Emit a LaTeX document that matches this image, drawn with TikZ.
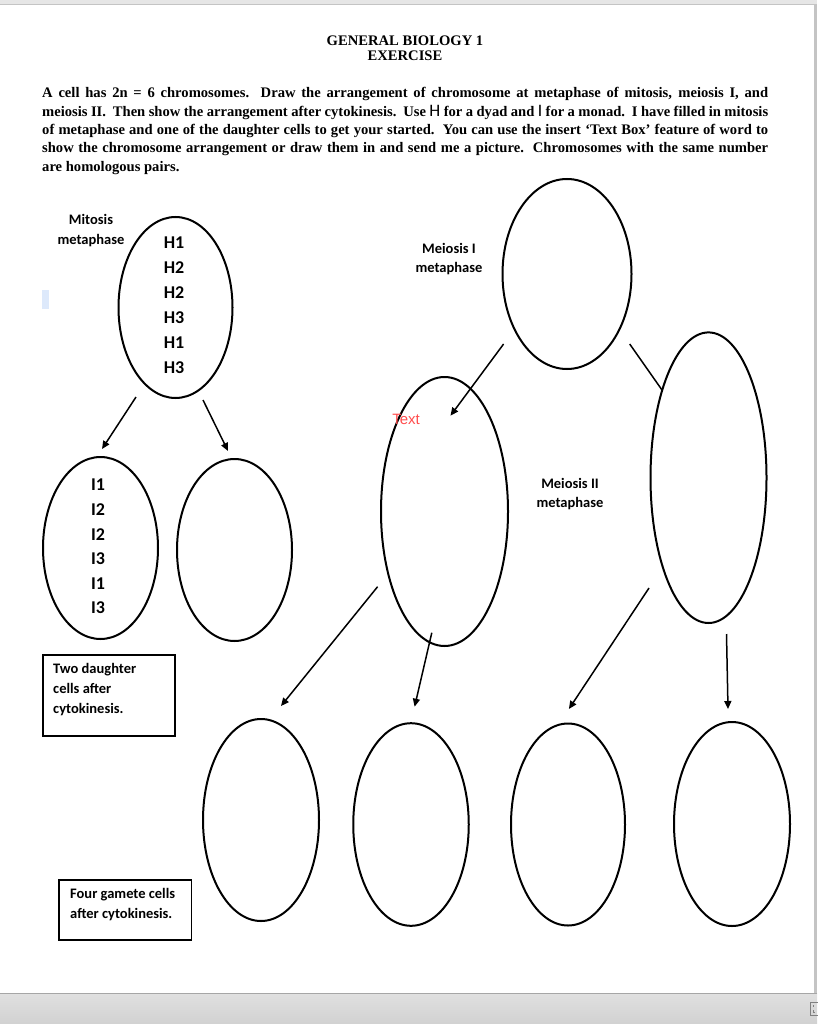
\documentclass[tikz,border=0pt]{standalone}
\usepackage{fontspec}
\setmainfont{Liberation Serif}
\newfontfamily\calfont{Carlito}
\newfontfamily\arialfont{Liberation Sans}
\usetikzlibrary{arrows.meta,shapes.geometric}
\definecolor{bandgray}{HTML}{E6E6E6}
\definecolor{edgegray}{HTML}{C4C4C4}
\definecolor{linegray}{HTML}{A6A6A6}
\definecolor{markblue}{HTML}{DDE9FB}
\definecolor{textred}{HTML}{FF4D4D}
\begin{document}
\begin{tikzpicture}[x=1pt,y=-1pt,
  cell/.style={ellipse, draw, line width=2pt, fill=white, inner sep=0pt},
  arr/.style={line width=1.5pt, -{Triangle[length=8pt,width=7pt]}},
  plain/.style={line width=1.5pt},
  boxframe/.style={draw, line width=1.5pt, inner sep=0pt},
  lab/.style={font={\calfont\bfseries\fontsize{14.5}{19.5}\selectfont}, inner sep=0pt, anchor=base},
  boxlab/.style={font={\calfont\bfseries\fontsize{14.5}{20}\selectfont}, inner sep=0pt, anchor=base west},
  chrom/.style={font={\calfont\bfseries\fontsize{18}{20}\selectfont}, inner sep=0pt},
  para/.style={font={\bfseries\fontsize{14.6}{18.3}\selectfont}, inner sep=0pt, anchor=base west},
  ttl/.style={font={\bfseries\fontsize{14.6}{18.3}\selectfont}, inner sep=0pt, anchor=base}
]
\useasboundingbox (0,0) rectangle (817,1024);
% page and window chrome
\fill[white] (0,0) rectangle (817,1024);
\fill[bandgray] (0,0) rectangle (817,4);
\draw[edgegray, line width=0.8pt] (0,4.4) -- (817,4.4);
\fill[edgegray] (814,4) rectangle (817,993);
\shade[top color=white!88!black, bottom color=white!82!black] (0,993) rectangle (817,1024);
\draw[linegray, line width=1.2pt] (0,993.6) -- (817,993.6);
\draw[gray, line width=0.9pt] (810.5,1002.5) rectangle (818,1015);
\draw[gray, line width=0.8pt] (813,1005) -- (813,1007) (813,1010) -- (813,1012.5) -- (815,1012.5);
\fill[markblue] (42.3,290) rectangle (49,309);

% title and instructions
\node[ttl] (t1) at (405,45.5) {GENERAL BIOLOGY 1};
\node[ttl] (t2) at (405,60.8) {EXERCISE};
\node[para] (p1) at (42,98) {\makebox[726pt][s]{A cell has 2n = 6 chromosomes.\ \ Draw the arrangement of chromosome at metaphase of mitosis, meiosis I, and}};
\node[para] (p2) at (42,116.3) {\makebox[726pt][s]{meiosis II.\ \ Then show the arrangement after cytokinesis.\ \ Use {\calfont\mdseries\fontsize{17.5}{18}\selectfont H} for a dyad and {\calfont\mdseries\fontsize{17.5}{18}\selectfont I} for a monad.\ \ I have filled in mitosis}};
\node[para] (p3) at (42,134.6) {\makebox[726pt][s]{of metaphase and one of the daughter cells to get your started.\ \ You can use the insert ‘Text Box’ feature of word to}};
\node[para] (p4) at (42,152.9) {\makebox[726pt][s]{show the chromosome arrangement or draw them in and send me a picture.\ \ Chromosomes with the same number}};
\node[para] (p5) at (42,171.2) {are homologous pairs.};

% cells
\node[cell, minimum width=114pt, minimum height=181pt] (mit) at (175.5,307.5) {};
\node[cell, minimum width=115pt, minimum height=182pt] (d1) at (100.5,548) {};
\node[cell, minimum width=115pt, minimum height=182pt] (d2) at (234.5,550) {};
\node[cell, minimum width=129pt, minimum height=190pt] (m1) at (567,274) {};
\node[cell, minimum width=127pt, minimum height=269pt] (m2a) at (444.5,511.5) {};
\node[cell, minimum width=116pt, minimum height=290.6pt] (m2b) at (708.5,477.7) {};
\node[cell, minimum width=116pt, minimum height=202pt] (g1) at (261,820) {};
\node[cell, minimum width=115.5pt, minimum height=202.6pt] (g2) at (411,824.5) {};
\node[cell, minimum width=114pt, minimum height=202pt] (g3) at (568,824.5) {};
\node[cell, minimum width=116pt, minimum height=204pt] (g4) at (732,824) {};

% labels
\node[lab] (lmit) at (91,225) {\begin{tabular}[t]{@{}c@{}}Mitosis\\metaphase\end{tabular}};
\node[lab] (lm1) at (449,253.3) {\begin{tabular}[t]{@{}c@{}}Meiosis I\\metaphase\end{tabular}};
\node[lab] (lm2) at (570,488.3) {\begin{tabular}[t]{@{}c@{}}Meiosis II\\metaphase\end{tabular}};
\node[inner sep=0pt, anchor=base, text=textred, font={\arialfont\fontsize{15}{18}\selectfont}] (redtext) at (406,424.3) {Text};

% chromosome labels
\node[chrom] (h1) at (174,243) {H1};
\node[chrom] (h2) at (174,268) {H2};
\node[chrom] (h3) at (174,293) {H2};
\node[chrom] (h4) at (174,318) {H3};
\node[chrom] (h5) at (174,343) {H1};
\node[chrom] (h6) at (174,368) {H3};
\node[chrom] (i1) at (98,485) {I1};
\node[chrom] (i2) at (98,509.6) {I2};
\node[chrom] (i3) at (98,534.2) {I2};
\node[chrom] (i4) at (98,558.8) {I3};
\node[chrom] (i5) at (98,583.4) {I1};
\node[chrom] (i6) at (98,608) {I3};

% boxes
\node[boxframe, minimum width=132pt, minimum height=81pt] (box1) at (109,695.5) {};
\node[boxlab] (box1t) at (53,673.3) {\begin{tabular}[t]{@{}l@{}}Two daughter\\cells after\\cytokinesis.\end{tabular}};
\node[boxframe, minimum width=132.7pt, minimum height=60pt] (box2) at (125.35,910) {};
\node[boxlab] (box2t) at (70,898.3) {\begin{tabular}[t]{@{}l@{}}Four gamete cells\\after cytokinesis.\end{tabular}};

% connector end points
\coordinate (a1s) at (136,397);   \coordinate (a1e) at (102,449);
\coordinate (a2s) at (203,400);   \coordinate (a2e) at (228,451);
\coordinate (a3s) at (503.6,344); \coordinate (a3e) at (450.5,415.7);
\coordinate (a4s) at (629.7,344); \coordinate (a4e) at (662,390);
\coordinate (a5s) at (377.6,586.7); \coordinate (a5e) at (281,706);
\coordinate (a6s) at (431.8,632.7); \coordinate (a6e) at (414.6,706.7);
\coordinate (a7s) at (649,588);   \coordinate (a7e) at (568.9,709);
\coordinate (a8s) at (726.5,634); \coordinate (a8e) at (728,709);

\draw[arr] (a1s) -- (a1e);
\draw[arr] (a2s) -- (a2e);
\draw[arr] (a3s) -- (a3e);
\draw[plain] (a4s) -- (a4e);
\draw[arr] (a5s) -- (a5e);
\draw[arr] (a6s) -- (a6e);
\draw[arr] (a7s) -- (a7e);
\draw[arr] (a8s) -- (a8e);
\end{tikzpicture}
\end{document}
